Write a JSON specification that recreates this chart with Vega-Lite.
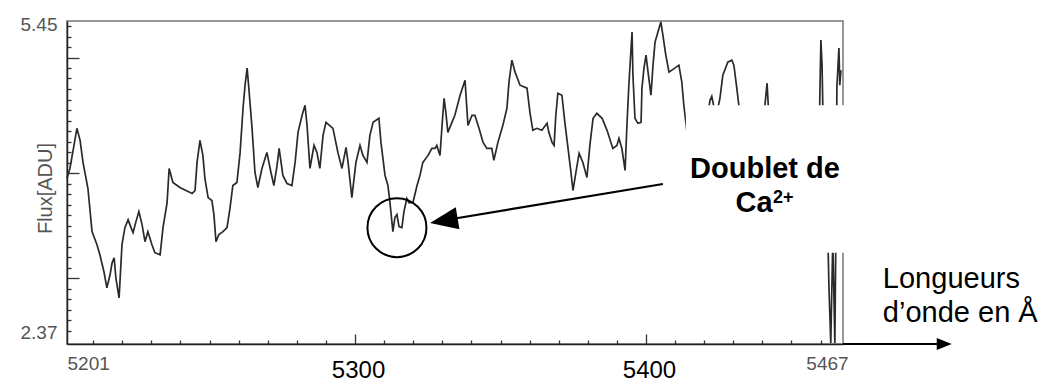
{
  "$schema": "https://vega.github.io/schema/vega-lite/v6.json",
  "width": 776,
  "height": 323,
  "autosize": {"type": "none"},
  "padding": {"left": 67, "top": 21, "right": 217, "bottom": 40},
  "background": "white",
  "config": {
    "font": "Liberation Sans",
    "view": {"stroke": "#777", "strokeWidth": 1.5},
    "axis": {"domainColor": "#222", "domainWidth": 1.5, "tickColor": "#333", "tickWidth": 1.3, "grid": false, "labelFont": "Liberation Sans", "titleFont": "Liberation Sans"}
  },
  "datasets": {
    "spectrum": [
      {"wl": 5201.0, "flux": 3.91}, {"wl": 5202.0, "flux": 4.01}, {"wl": 5203.4, "flux": 4.24}, {"wl": 5204.4, "flux": 4.41},
      {"wl": 5205.5, "flux": 4.29}, {"wl": 5206.5, "flux": 4.07}, {"wl": 5208.2, "flux": 3.81}, {"wl": 5209.6, "flux": 3.38},
      {"wl": 5211.3, "flux": 3.25}, {"wl": 5212.3, "flux": 3.15}, {"wl": 5213.7, "flux": 2.98}, {"wl": 5214.7, "flux": 2.82},
      {"wl": 5215.8, "flux": 2.95}, {"wl": 5216.5, "flux": 3.07}, {"wl": 5217.2, "flux": 3.12}, {"wl": 5217.8, "flux": 2.92},
      {"wl": 5218.9, "flux": 2.72}, {"wl": 5219.9, "flux": 3.25}, {"wl": 5220.9, "flux": 3.42}, {"wl": 5222.0, "flux": 3.50},
      {"wl": 5223.0, "flux": 3.42}, {"wl": 5223.7, "flux": 3.37}, {"wl": 5224.7, "flux": 3.48}, {"wl": 5225.7, "flux": 3.58},
      {"wl": 5226.8, "flux": 3.45}, {"wl": 5227.8, "flux": 3.28}, {"wl": 5228.8, "flux": 3.38}, {"wl": 5230.2, "flux": 3.25},
      {"wl": 5231.2, "flux": 3.17}, {"wl": 5233.0, "flux": 3.15}, {"wl": 5234.0, "flux": 3.42}, {"wl": 5235.4, "flux": 3.67},
      {"wl": 5236.1, "flux": 4.01}, {"wl": 5237.4, "flux": 3.87}, {"wl": 5239.8, "flux": 3.82}, {"wl": 5241.9, "flux": 3.79},
      {"wl": 5244.0, "flux": 3.76}, {"wl": 5245.0, "flux": 3.79}, {"wl": 5245.7, "flux": 4.07}, {"wl": 5246.7, "flux": 4.29},
      {"wl": 5247.7, "flux": 4.14}, {"wl": 5248.4, "flux": 3.91}, {"wl": 5249.5, "flux": 3.72}, {"wl": 5250.8, "flux": 3.69},
      {"wl": 5251.5, "flux": 3.55}, {"wl": 5252.2, "flux": 3.28}, {"wl": 5253.2, "flux": 3.35}, {"wl": 5254.6, "flux": 3.38},
      {"wl": 5256.0, "flux": 3.42}, {"wl": 5257.0, "flux": 3.61}, {"wl": 5258.0, "flux": 3.84}, {"wl": 5259.4, "flux": 3.87},
      {"wl": 5260.5, "flux": 4.17}, {"wl": 5261.5, "flux": 4.61}, {"wl": 5262.2, "flux": 4.84}, {"wl": 5262.9, "flux": 5.01},
      {"wl": 5263.5, "flux": 4.81}, {"wl": 5264.6, "flux": 4.41}, {"wl": 5265.6, "flux": 3.97}, {"wl": 5266.6, "flux": 3.82},
      {"wl": 5268.0, "flux": 4.01}, {"wl": 5269.7, "flux": 4.17}, {"wl": 5271.1, "flux": 3.97}, {"wl": 5272.1, "flux": 3.84},
      {"wl": 5273.2, "flux": 4.04}, {"wl": 5273.9, "flux": 4.21}, {"wl": 5275.2, "flux": 3.94}, {"wl": 5276.6, "flux": 3.86},
      {"wl": 5278.3, "flux": 3.84}, {"wl": 5279.4, "flux": 4.07}, {"wl": 5280.4, "flux": 4.37}, {"wl": 5281.8, "flux": 4.54},
      {"wl": 5282.8, "flux": 4.64}, {"wl": 5283.5, "flux": 4.44}, {"wl": 5284.5, "flux": 4.01}, {"wl": 5285.9, "flux": 4.24},
      {"wl": 5286.9, "flux": 4.17}, {"wl": 5287.9, "flux": 4.01}, {"wl": 5289.0, "flux": 4.34}, {"wl": 5290.0, "flux": 4.47},
      {"wl": 5292.4, "flux": 4.41}, {"wl": 5294.1, "flux": 4.17}, {"wl": 5295.5, "flux": 4.01}, {"wl": 5296.9, "flux": 4.22},
      {"wl": 5297.6, "flux": 4.07}, {"wl": 5298.9, "flux": 3.72}, {"wl": 5300.3, "flux": 4.07}, {"wl": 5301.7, "flux": 4.24},
      {"wl": 5302.7, "flux": 4.14}, {"wl": 5304.1, "flux": 4.07}, {"wl": 5305.1, "flux": 4.34}, {"wl": 5306.2, "flux": 4.47},
      {"wl": 5308.2, "flux": 4.51}, {"wl": 5308.9, "flux": 4.27}, {"wl": 5310.3, "flux": 3.94}, {"wl": 5311.3, "flux": 3.84},
      {"wl": 5312.0, "flux": 3.67}, {"wl": 5313.0, "flux": 3.38}, {"wl": 5313.7, "flux": 3.52}, {"wl": 5314.4, "flux": 3.55},
      {"wl": 5315.1, "flux": 3.43}, {"wl": 5316.1, "flux": 3.42}, {"wl": 5316.8, "flux": 3.58}, {"wl": 5317.8, "flux": 3.71},
      {"wl": 5318.5, "flux": 3.67}, {"wl": 5319.9, "flux": 3.67}, {"wl": 5321.3, "flux": 3.84}, {"wl": 5322.3, "flux": 3.94},
      {"wl": 5323.3, "flux": 4.07}, {"wl": 5325.1, "flux": 4.14}, {"wl": 5326.4, "flux": 4.21}, {"wl": 5327.5, "flux": 4.21},
      {"wl": 5328.1, "flux": 4.24}, {"wl": 5329.2, "flux": 4.14}, {"wl": 5329.9, "flux": 4.44}, {"wl": 5330.6, "flux": 4.71},
      {"wl": 5331.2, "flux": 4.57}, {"wl": 5331.9, "flux": 4.37}, {"wl": 5333.3, "flux": 4.47}, {"wl": 5334.3, "flux": 4.54},
      {"wl": 5336.1, "flux": 4.74}, {"wl": 5337.8, "flux": 4.89}, {"wl": 5338.8, "flux": 4.44}, {"wl": 5340.2, "flux": 4.54},
      {"wl": 5341.2, "flux": 4.54}, {"wl": 5342.6, "flux": 4.41}, {"wl": 5344.0, "flux": 4.27}, {"wl": 5345.3, "flux": 4.21},
      {"wl": 5347.0, "flux": 4.21}, {"wl": 5347.7, "flux": 4.09}, {"wl": 5349.1, "flux": 4.27}, {"wl": 5350.8, "flux": 4.44},
      {"wl": 5352.2, "flux": 4.61}, {"wl": 5352.9, "flux": 4.87}, {"wl": 5353.9, "flux": 5.09}, {"wl": 5355.0, "flux": 4.97},
      {"wl": 5356.7, "flux": 4.84}, {"wl": 5359.1, "flux": 4.81}, {"wl": 5360.1, "flux": 4.57}, {"wl": 5361.1, "flux": 4.39},
      {"wl": 5362.5, "flux": 4.41}, {"wl": 5364.2, "flux": 4.39}, {"wl": 5366.0, "flux": 4.46}, {"wl": 5366.6, "flux": 4.37},
      {"wl": 5367.7, "flux": 4.27}, {"wl": 5368.4, "flux": 4.24}, {"wl": 5369.0, "flux": 4.54}, {"wl": 5369.7, "flux": 4.76},
      {"wl": 5371.1, "flux": 4.74}, {"wl": 5372.1, "flux": 4.47}, {"wl": 5373.2, "flux": 4.21}, {"wl": 5374.2, "flux": 3.97},
      {"wl": 5374.9, "flux": 3.79}, {"wl": 5375.9, "flux": 3.97}, {"wl": 5377.0, "flux": 4.16}, {"wl": 5378.3, "flux": 4.07},
      {"wl": 5379.7, "flux": 3.92}, {"wl": 5380.7, "flux": 4.24}, {"wl": 5381.8, "flux": 4.51}, {"wl": 5383.1, "flux": 4.56},
      {"wl": 5384.9, "flux": 4.51}, {"wl": 5386.6, "flux": 4.39}, {"wl": 5388.6, "flux": 4.21}, {"wl": 5390.0, "flux": 4.24},
      {"wl": 5390.7, "flux": 4.31}, {"wl": 5391.7, "flux": 4.21}, {"wl": 5392.8, "flux": 3.99}, {"wl": 5393.4, "flux": 4.41},
      {"wl": 5394.1, "flux": 4.84}, {"wl": 5395.2, "flux": 5.37}, {"wl": 5395.5, "flux": 4.94}, {"wl": 5396.2, "flux": 4.51},
      {"wl": 5397.2, "flux": 4.46}, {"wl": 5398.3, "flux": 4.47}, {"wl": 5398.6, "flux": 4.81}, {"wl": 5399.3, "flux": 5.01},
      {"wl": 5400.0, "flux": 5.14}, {"wl": 5400.7, "flux": 4.97}, {"wl": 5401.7, "flux": 4.74}, {"wl": 5402.4, "flux": 5.04},
      {"wl": 5403.1, "flux": 5.27}, {"wl": 5404.1, "flux": 5.37}, {"wl": 5405.1, "flux": 5.47}, {"wl": 5405.8, "flux": 5.34},
      {"wl": 5406.8, "flux": 5.14}, {"wl": 5407.9, "flux": 4.97}, {"wl": 5409.9, "flux": 5.01}, {"wl": 5411.3, "flux": 5.04},
      {"wl": 5412.3, "flux": 4.87}, {"wl": 5413.0, "flux": 4.64}, {"wl": 5414.4, "flux": 4.29}, {"wl": 5416.8, "flux": 4.04},
      {"wl": 5418.5, "flux": 4.19}, {"wl": 5420.6, "flux": 4.44}, {"wl": 5422.0, "flux": 4.69}, {"wl": 5422.6, "flux": 4.73},
      {"wl": 5423.7, "flux": 4.57}, {"wl": 5424.7, "flux": 4.61}, {"wl": 5425.4, "flux": 4.71}, {"wl": 5426.4, "flux": 4.94},
      {"wl": 5428.1, "flux": 5.07}, {"wl": 5429.5, "flux": 5.09}, {"wl": 5430.2, "flux": 5.04}, {"wl": 5431.2, "flux": 4.81},
      {"wl": 5431.9, "flux": 4.64}, {"wl": 5433.3, "flux": 4.29}, {"wl": 5435.7, "flux": 3.99}, {"wl": 5438.1, "flux": 4.19},
      {"wl": 5440.2, "flux": 4.44}, {"wl": 5441.6, "flux": 4.86}, {"wl": 5442.2, "flux": 4.54}, {"wl": 5444.3, "flux": 4.19},
      {"wl": 5447.7, "flux": 3.99}, {"wl": 5451.2, "flux": 4.29}, {"wl": 5454.6, "flux": 4.09}, {"wl": 5457.0, "flux": 4.29},
      {"wl": 5459.4, "flux": 4.19}, {"wl": 5460.1, "flux": 5.29}, {"wl": 5460.5, "flux": 5.04}, {"wl": 5461.1, "flux": 4.09},
      {"wl": 5462.2, "flux": 3.69}, {"wl": 5462.9, "flux": 2.80}, {"wl": 5463.5, "flux": 2.27}, {"wl": 5464.2, "flux": 3.30},
      {"wl": 5464.9, "flux": 2.27}, {"wl": 5465.3, "flux": 3.50}, {"wl": 5465.6, "flux": 4.82}, {"wl": 5466.3, "flux": 5.21},
      {"wl": 5466.6, "flux": 4.84}, {"wl": 5467.0, "flux": 4.99}
    ]
  },
  "encoding": {
    "x": {
      "field": "wl", "type": "quantitative",
      "scale": {"domain": [5201, 5467.7], "nice": false, "zero": false},
      "axis": {
        "title": null,
        "values": [5201, 5210, 5220, 5230, 5240, 5250, 5260, 5270, 5280, 5290, 5300, 5310, 5320, 5330, 5340, 5350, 5360, 5370, 5380, 5390, 5400, 5410, 5420, 5430, 5440, 5450, 5460, 5467],
        "format": "d",
        "labelExpr": "indexof([5201, 5300, 5400, 5467], datum.value) >= 0 ? datum.label : ''",
        "labelFlush": false,
        "labelOverlap": false,
        "labelBound": false,
        "tickSize": {"condition": {"test": "datum.value == 5300 || datum.value == 5400", "value": -10}, "value": -4},
        "tickOpacity": {"condition": {"test": "datum.value == 5201 || datum.value == 5467", "value": 0}, "value": 1},
        "labelPadding": {"condition": {"test": "datum.value == 5300 || datum.value == 5400", "value": 24}, "value": 14},
        "labelColor": {"condition": {"test": "datum.value == 5300 || datum.value == 5400", "value": "#000"}, "value": "#555"},
        "labelFontSize": {"condition": {"test": "datum.value == 5300 || datum.value == 5400", "value": 24}, "value": 19},
        "labelAlign": {"condition": {"test": "datum.value == 5201", "value": "left"}, "value": "center"},
        "labelOffset": {"condition": [{"test": "datum.value == 5467", "value": -14}, {"test": "datum.value == 5300 || datum.value == 5400", "value": 3}], "value": 0}
      }
    },
    "y": {
      "field": "flux", "type": "quantitative",
      "scale": {"domain": [2.26, 5.48], "nice": false, "zero": false},
      "axis": {
        "title": "Flux[ADU]",
        "titleColor": "#555",
        "titleFontSize": 20,
        "titleFontWeight": "normal",
        "titleX": -22,
        "titleY": 167,
        "titleAngle": -90,
        "titleAlign": "center",
        "titleBaseline": "middle",
        "values": [5.45, 5.43, 5.325, 5.221, 5.116, 5.011, 4.907, 4.802, 4.697, 4.592, 4.488, 4.383, 4.278, 4.174, 4.069, 3.964, 3.86, 3.755, 3.65, 3.545, 3.441, 3.336, 3.231, 3.127, 3.022, 2.917, 2.813, 2.708, 2.603, 2.498, 2.394, 2.37],
        "labelExpr": "datum.value == 5.45 || datum.value == 2.37 ? format(datum.value, '.2f') : ''",
        "labelFlush": false,
        "labelOverlap": false,
        "labelBound": false,
        "labelColor": "#555",
        "labelFontSize": 19,
        "labelPadding": 14,
        "tickSize": {"condition": {"test": "datum.value == 5.116 || datum.value == 3.964 || datum.value == 2.917", "value": -12}, "value": -4},
        "tickOpacity": {"condition": {"test": "datum.value == 5.45 || datum.value == 2.37", "value": 0}, "value": 1}
      }
    }
  },
  "layer": [
    {
      "data": {"name": "spectrum"},
      "mark": {"type": "line", "color": "#2a2a2a", "strokeWidth": 1.7}
    },
    {
      "data": {"values": [{"wl": 5413.7, "wl2": 5469.4, "flux": 4.64, "flux2": 3.17}]},
      "mark": {"type": "rect", "fill": "white", "strokeWidth": 0},
      "encoding": {
        "x2": {"field": "wl2"},
        "y2": {"field": "flux2"}
      }
    },
    {
      "data": {"values": [{"label": "Doublet de", "wl": 5440.9, "flux": 3.915}, {"label": "Ca", "wl": 5437.1, "flux": 3.576}]},
      "mark": {"type": "text", "font": "Liberation Sans", "fontWeight": "bold", "fontSize": 29, "align": "center", "baseline": "alphabetic", "color": "#000"},
      "encoding": {
        "text": {"field": "label"}
      }
    },
    {
      "data": {"values": [{"label": "2+", "wl": 5443.6, "flux": 3.665}]},
      "mark": {"type": "text", "font": "Liberation Sans", "fontWeight": "bold", "fontSize": 18, "align": "left", "baseline": "alphabetic", "color": "#000"},
      "encoding": {
        "text": {"field": "label"}
      }
    },
    {
      "data": {"values": [{"wl": 5314.4, "flux": 3.42}]},
      "mark": {"type": "point", "shape": "circle", "filled": false, "stroke": "#000", "strokeWidth": 2, "size": 3481, "opacity": 1}
    },
    {
      "data": {"values": [{"wl": 5405.8, "flux": 3.855, "wl2": 5333.3, "flux2": 3.506}, {"wl": 5467.7, "flux": 2.26, "wl2": 5500.3, "flux2": 2.26}]},
      "mark": {"type": "rule", "color": "#000", "strokeWidth": 2.2},
      "encoding": {
        "x2": {"field": "wl2"},
        "y2": {"field": "flux2"}
      }
    },
    {
      "data": {"values": [{"wl": 5330.5, "flux": 3.49}]},
      "mark": {"type": "point", "shape": "M-1,0L1,-0.8L1,0.8Z", "filled": true, "color": "#000", "opacity": 1, "size": 784, "angle": 350.5}
    },
    {
      "data": {"values": [{"wl": 5502.5, "flux": 2.26}]},
      "mark": {"type": "point", "shape": "M-1,-0.8L1,0L-1,0.8Z", "filled": true, "color": "#000", "opacity": 1, "size": 225}
    },
    {
      "data": {"values": [{"label": "Longueurs", "wl": 5481.4, "flux": 2.818}, {"label": "d’onde en Å", "wl": 5481.4, "flux": 2.479}]},
      "mark": {"type": "text", "font": "Liberation Sans", "fontSize": 29, "align": "left", "baseline": "alphabetic", "color": "#000"},
      "encoding": {
        "text": {"field": "label"}
      }
    }
  ]
}
